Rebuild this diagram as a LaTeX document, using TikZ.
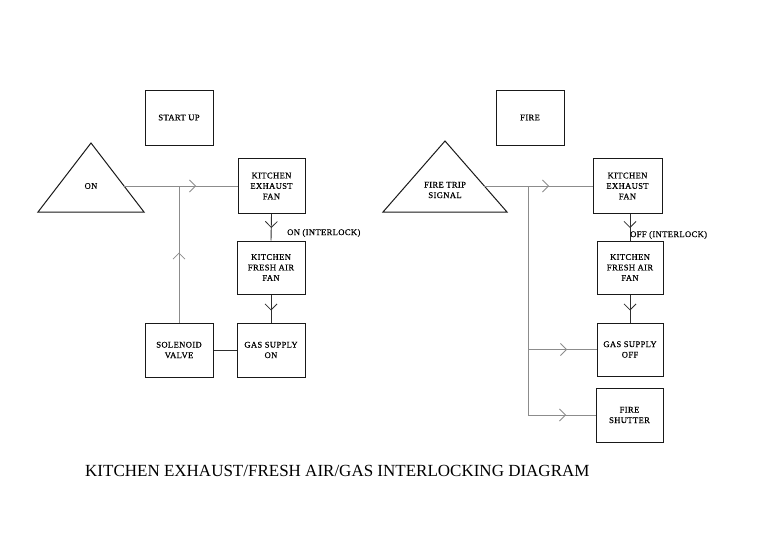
\documentclass[tikz,border=0pt]{standalone}
\usepackage{fontspec}
\setmainfont{Liberation Serif}
\newfontfamily\boxfont[LetterSpace=4,FakeBold=0.6]{Liberation Serif}
\usetikzlibrary{arrows.meta,decorations.markings}
\definecolor{lgray}{HTML}{8C8C8C}
\definecolor{dline}{HTML}{2E2E2E}
\tikzset{
  box/.style={draw=black!90, line width=1pt, align=center, inner sep=0pt,
    font=\boxfont\fontsize{8.6}{10.5}\selectfont},
  lbl/.style={font=\boxfont\fontsize{8.6}{10.5}\selectfont, inner sep=0pt},
  tri/.style={draw=black!90, line width=1pt, line join=miter},
  gline/.style={draw=lgray, line width=0.8pt},
  dconn/.style={draw=dline, line width=0.9pt},
  midarrow/.style={postaction={decorate}, decoration={markings,
    mark=at position #1 with {\arrow{Straight Barb[length=6pt,width=12pt,line width=0.8pt]}}}}
}
\begin{document}
\begin{tikzpicture}[x=1pt,y=-1pt]
\useasboundingbox (0,0) rectangle (768,543);
% ---------- left: start up ----------
\node[box, minimum width=68, minimum height=55] (start) at (179,117.5) {START UP};
\draw[tri] (38,212) -- (91,143) -- (144,212) -- cycle;
\node[lbl] (on) at (91,186) {ON};
\coordinate (onR) at (124,186);
\node[box, minimum width=67, minimum height=55] (ke) at (271.5,186) {KITCHEN\\EXHAUST\\FAN};
\node[box, minimum width=68, minimum height=53] (kfa) at (271,267.5) {KITCHEN\\FRESH AIR\\FAN};
\node[box, minimum width=68, minimum height=54] (gs) at (271,350) {GAS SUPPLY\\ON};
\node[box, minimum width=68, minimum height=54] (sv) at (179,350) {SOLENOID\\VALVE};
\coordinate (j1) at (179,186);
\draw[gline, midarrow=72pt] (onR) -- (ke.west);
\draw[gline, midarrow=70pt] (sv.north) -- (j1);
\draw[dconn, midarrow=14pt] (ke.south) -- (kfa.north);
\draw[dconn, midarrow=16pt] (kfa.south) -- (gs.north);
\draw[dconn] (sv.east) -- (gs.west);
\node[lbl, anchor=west] (il1) at (287,233) {ON (INTERLOCK)};
% ---------- right: fire ----------
\node[box, minimum width=68, minimum height=55] (fire) at (530,117.5) {FIRE};
\draw[tri] (383,212) -- (445,141) -- (507,212) -- cycle;
\node[lbl, align=center] (fts) at (445,190) {FIRE TRIP\\SIGNAL};
\coordinate (ftR) at (484,186);
\node[box, minimum width=69, minimum height=55] (ke2) at (627.5,186) {KITCHEN\\EXHAUST\\FAN};
\node[box, minimum width=66, minimum height=53] (kfa2) at (630,267.5) {KITCHEN\\FRESH AIR\\FAN};
\node[box, minimum width=66, minimum height=53] (gs2) at (630,349.5) {GAS SUPPLY\\OFF};
\node[box, minimum width=67, minimum height=54] (fs) at (629.5,415) {FIRE\\SHUTTER};
\coordinate (j2) at (528,186);
\coordinate (b1) at (528,349.5);
\coordinate (b2) at (528,415);
\draw[gline, midarrow=65pt] (ftR) -- (ke2.west);
\draw[gline] (j2) -- (b2);
\draw[gline, midarrow=39pt] (b1) -- (gs2.west);
\draw[gline, midarrow=38pt] (b2) -- (fs.west);
\draw[dconn, midarrow=14pt] (ke2.south -| kfa2.north) -- (kfa2.north);
\draw[dconn, midarrow=16pt] (kfa2.south) -- (gs2.north);
\node[lbl, anchor=west] (il2) at (630,235) {OFF (INTERLOCK)};
% ---------- title ----------
\node[anchor=west, inner sep=0pt, font=\fontsize{17}{20}\selectfont] (title) at (85,471) {KITCHEN EXHAUST/FRESH AIR/GAS INTERLOCKING DIAGRAM};
\end{tikzpicture}
\end{document}
